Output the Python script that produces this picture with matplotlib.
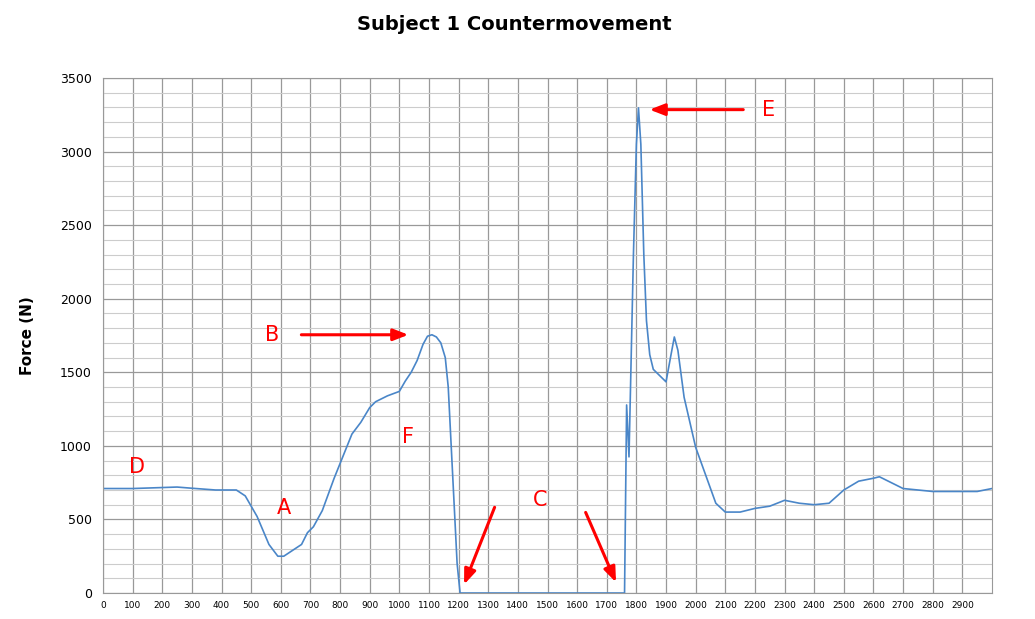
import matplotlib
matplotlib.use("Agg")
import matplotlib.pyplot as plt
import numpy as np

# Force trace (time index, force in N)
t = [0, 100, 250, 300, 380, 450, 480, 520, 560, 590, 610, 640, 670, 690, 710, 740,
     780, 810, 840, 870, 900, 920, 960, 1000, 1020, 1040, 1060, 1080, 1095, 1110, 1125,
     1140, 1155, 1165, 1175, 1185, 1195, 1205, 1760, 1767, 1775, 1790, 1800, 1807, 1815,
     1825, 1834, 1845, 1857, 1900, 1915, 1928, 1940, 1961, 2000, 2068, 2100, 2150, 2200,
     2250, 2300, 2350, 2400, 2450, 2500, 2550, 2600, 2620, 2650, 2700, 2800, 2900,
     2950, 3000]
force = [710, 710, 720, 712, 700, 700, 660, 520, 330, 250, 250, 290, 330, 410, 450, 560,
         780, 930, 1080, 1160, 1260, 1300, 1340, 1370, 1440, 1500, 1580, 1690, 1745, 1755, 1740,
         1700, 1600, 1400, 1000, 600, 200, 0, 0, 1278, 925, 2300, 3050, 3297, 3050,
         2300, 1850, 1620, 1520, 1435, 1600, 1740, 1650, 1330, 990, 610, 550, 550, 575,
         590, 630, 610, 600, 610, 700, 760, 780, 790, 760, 710, 690, 690,
         690, 710]

labels = ["D", "A", "B", "F", "C", "E"]
label_x = [115, 610, 570, 1030, 1475, 2245]
label_y = [855, 580, 1755, 1060, 630, 3285]
arrows = [((660, 1755), (1040, 1755)), ((2170, 3285), (1835, 3285)),
          ((1325, 600), (1215, 40)), ((1625, 565), (1735, 55))]

fig = plt.figure(figsize=(10.35, 6.19), dpi=100)
ax = fig.add_axes([103 / 1035, 1 - 593 / 619, 889 / 1035, 515 / 619])

ax.plot(t, force, color="#4a86c8", lw=1.2)
ax.set_xlim(0, 3000)
ax.set_ylim(0, 3500)
ax.set_xticks(np.arange(0, 3000, 100))
ax.set_yticks(np.arange(0, 3501, 500))
ax.set_yticks(np.arange(0, 3501, 100), minor=True)
ax.grid(True, which="major", color="#999999", lw=0.9)
ax.grid(True, which="minor", axis="y", color="#cccccc", lw=0.8)
ax.tick_params(axis="x", labelsize=6.5, length=0, pad=6)
ax.tick_params(axis="y", labelsize=9, length=0, pad=8)
ax.tick_params(which="minor", length=0)
for s in ax.spines.values():
    s.set_color("#999999")

for lab, x, y in zip(labels, label_x, label_y):
    ax.text(x, y, lab, color="red", fontsize=15, ha="center", va="center")
for start, end in arrows:
    ax.annotate("", xy=end, xytext=start,
                arrowprops=dict(arrowstyle="-|>,head_width=0.35,head_length=0.9",
                                color="red", lw=2.2))

ax.set_ylabel("Force (N)", fontsize=11, fontweight="bold", labelpad=18)
fig.text(514 / 1035, 1 - 25 / 619, "Subject 1 Countermovement", ha="center",
         va="center", fontsize=14, fontweight="bold")

fig.savefig("out.png", dpi=100)
